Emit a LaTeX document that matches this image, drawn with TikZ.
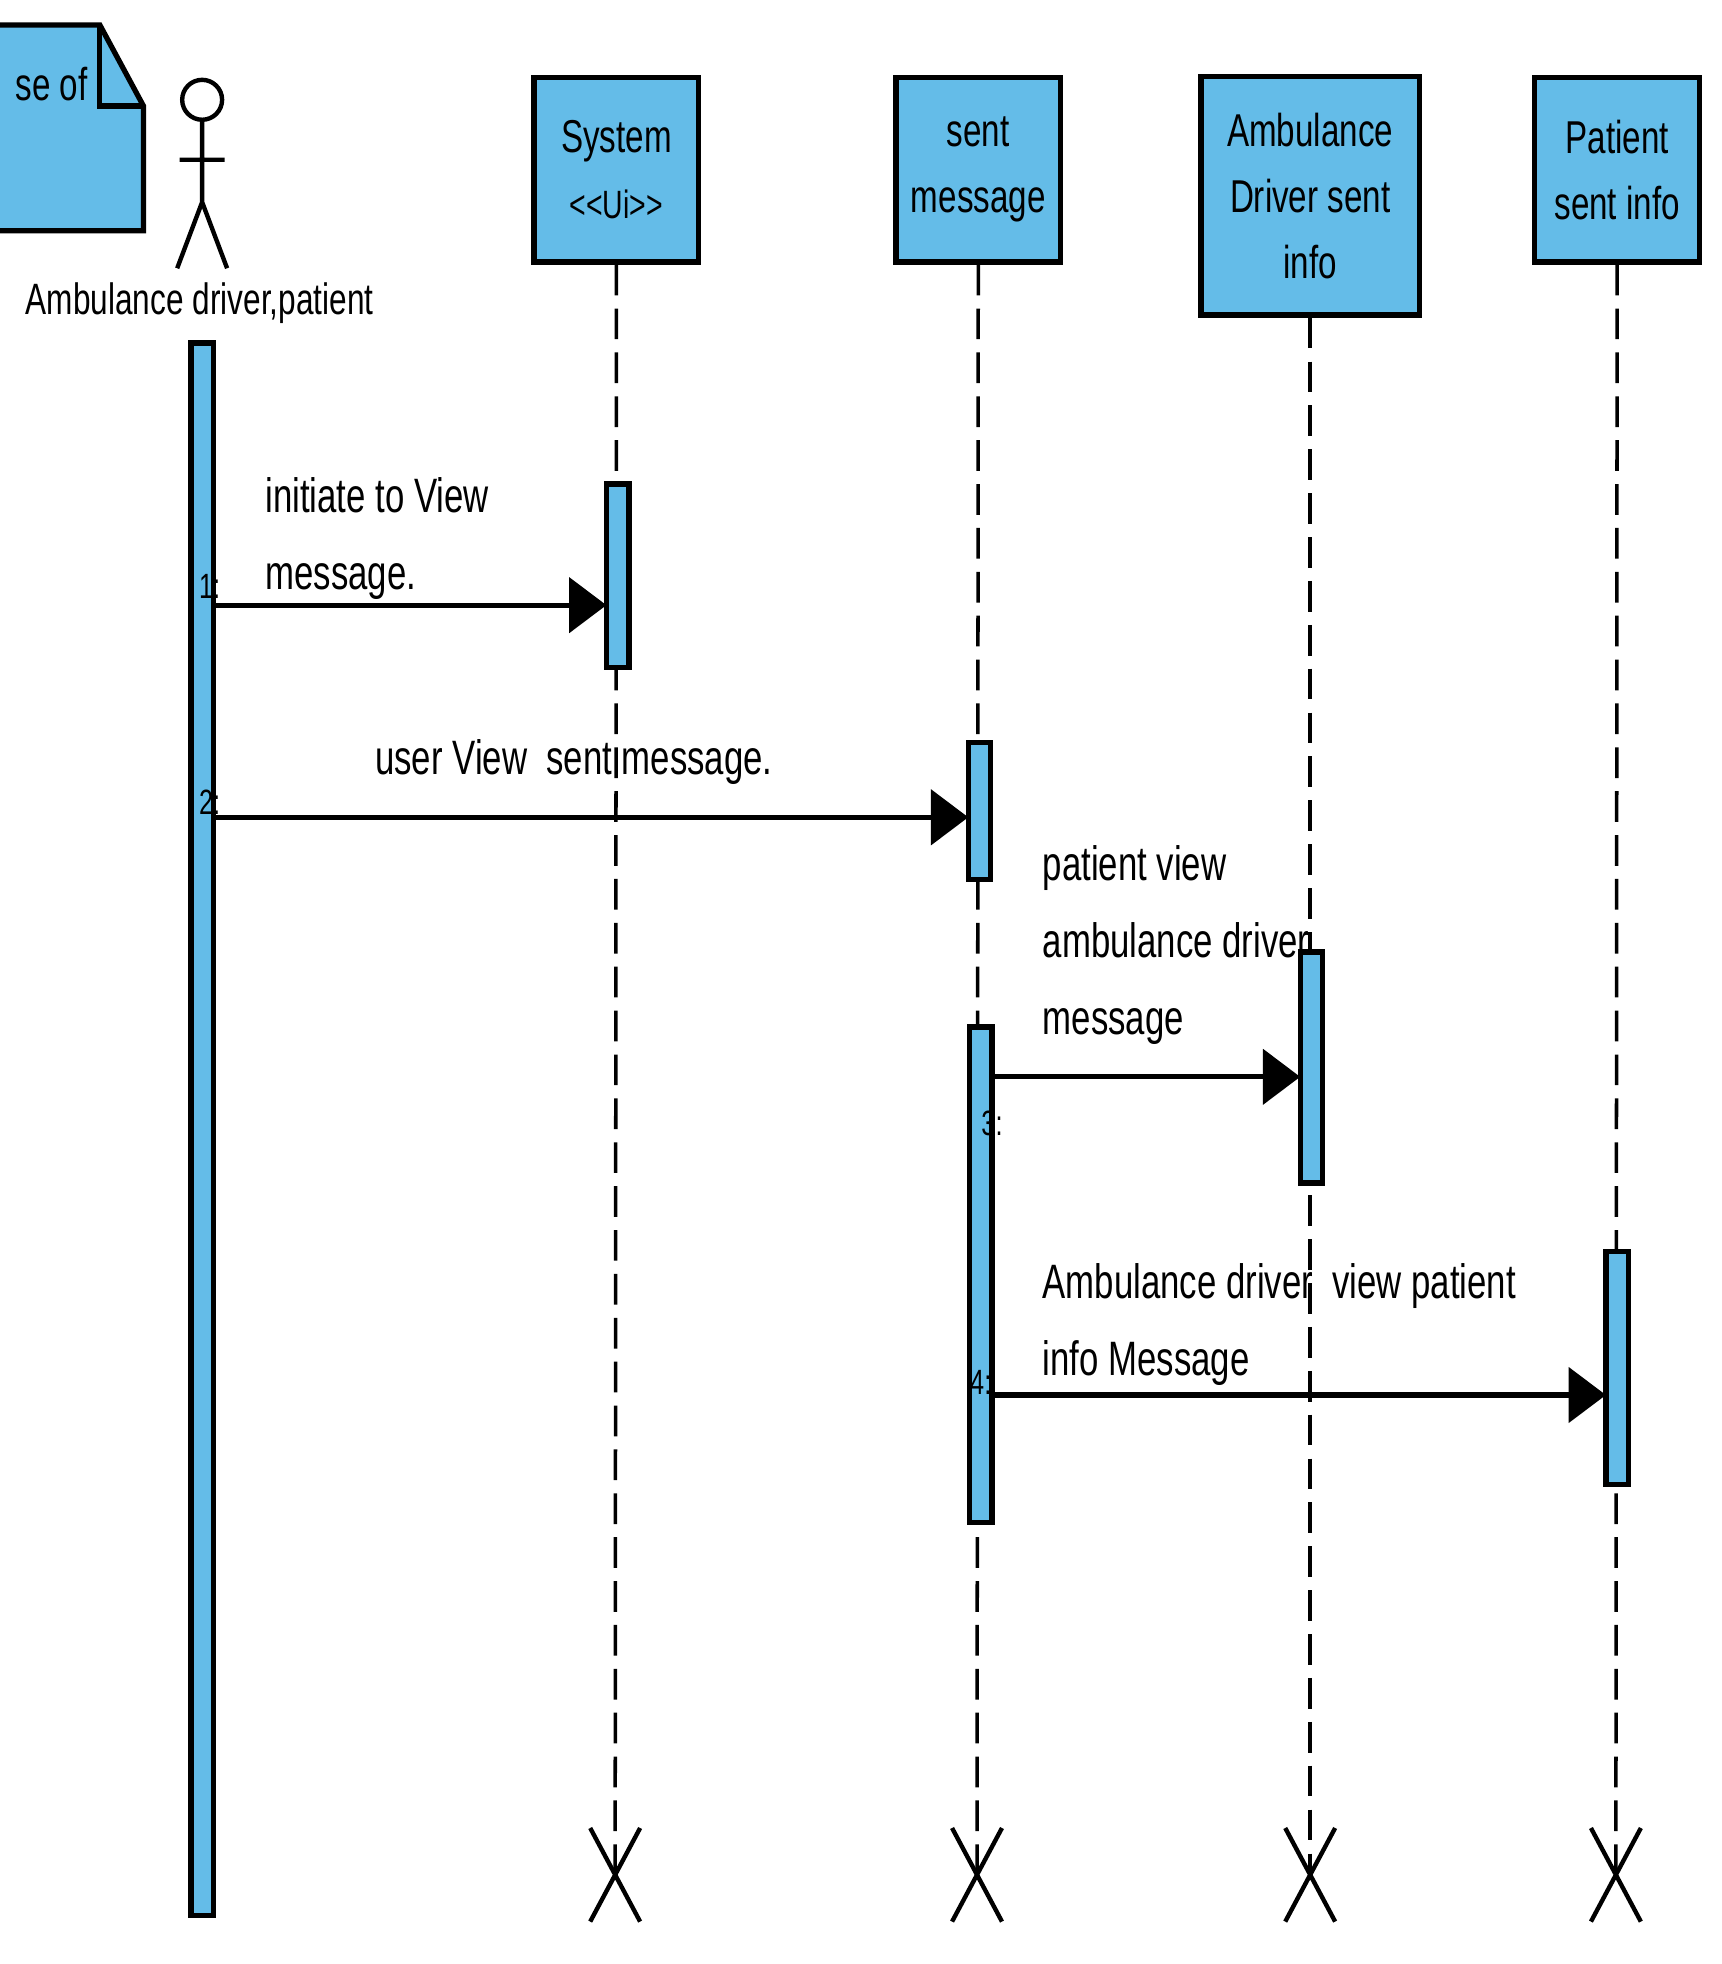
\documentclass[tikz,border=0pt]{standalone}
\usepackage{fontspec}
\setmainfont[FakeStretch=0.72]{Liberation Sans}
\usetikzlibrary{arrows.meta}
\definecolor{uml}{RGB}{100,188,232}
\begin{document}
\begin{tikzpicture}[x=0.01cm,y=-0.01cm,
  box/.style={draw,line width=1.2pt,fill=uml},
  lbl/.style={font=\fontsize{10.5}{15}\selectfont,align=center},
  mlbl/.style={font=\fontsize{11}{17.5}\selectfont,align=left,anchor=north west,inner sep=0},
  life/.style={dash pattern=on 7pt off 3pt,line width=0.8pt},
  msg/.style={line width=1.2pt,-{Triangle[length=8.5pt,width=12.5pt]}},
  num/.style={font=\fontsize{8}{8}\selectfont,inner sep=0}]
\useasboundingbox[fill=white] (0,0) rectangle (1380,1574);
% note
\draw[box] (-10,20) -- (80,20) -- (115,85) -- (115,185) -- (-10,185);
\draw[line width=1.2pt] (80,20) -- (80,85) -- (115,85);
\node[lbl,anchor=west] (note) at (0,67) {se of};
% actor
\draw[line width=1pt] (162,80) circle (16);
\draw[line width=1pt] (162,96) -- (162,162) (144,128) -- (180,128) (142,215) -- (162,162) -- (182,215);
\node[lbl,font=\fontsize{10}{12}\selectfont] (actl) at (160,243) {Ambulance driver,patient};
% lifeline heads
\node[box,lbl,minimum width=132*0.01cm,minimum height=148*0.01cm] (sys) at (494,136) {System\\\fontsize{9}{12}\selectfont<{}<Ui>{}>};
\node[box,lbl,minimum width=132*0.01cm,minimum height=148*0.01cm] (sm) at (784,136) {sent\\message};
\node[box,lbl,minimum width=175*0.01cm,minimum height=191*0.01cm] (ad) at (1050,157) {Ambulance\\Driver sent\\info};
\node[box,lbl,minimum width=132*0.01cm,minimum height=148*0.01cm] (pi) at (1296,136) {Patient\\sent info};
% lifelines
\coordinate (sysE) at (493,1500);
\coordinate (smE) at (783,1500);
\coordinate (adE) at (1050,1500);
\coordinate (piE) at (1295,1500);
\draw[life] (sys.south) -- (sysE);
\draw[life] (sm.south) -- (smE);
\draw[life] (ad.south) -- (adE);
\draw[life] (pi.south) -- (piE);
\foreach \c in {sysE,smE,adE,piE}{
  \draw[line width=1pt] ([shift={(-20,-35)}]\c) -- ([shift={(20,40)}]\c) ([shift={(20,-35)}]\c) -- ([shift={(-20,40)}]\c);}
% activations
\draw[box] (153,275) rectangle (171,1535);
\draw[box] (486,388) rectangle (504,535);
\draw[box] (776,595) rectangle (794,705);
\draw[box] (777,823) rectangle (795,1220);
\draw[box] (1042,763) rectangle (1060,948);
\draw[box] (1287,1003) rectangle (1305,1190);
% messages
\coordinate (m1s) at (171,485); \coordinate (m1e) at (486,485);
\coordinate (m2s) at (171,655); \coordinate (m2e) at (776,655);
\coordinate (m3s) at (795,863); \coordinate (m3e) at (1042,863);
\coordinate (m4s) at (795,1118); \coordinate (m4e) at (1287,1118);
\draw[msg] (m1s) -- (m1e);
\draw[msg] (m2s) -- (m2e);
\draw[msg] (m3s) -- (m3e);
\draw[msg] (m4s) -- (m4e);
\node[mlbl] (l1) at (212,382) {initiate to View\\message.};
\node[mlbl] (l2) at (300,592) {user View\ \ sent message.};
\node[mlbl] (l3) at (835,677) {patient view\\ambulance driver\\message};
\node[mlbl] (l4) at (835,1012) {Ambulance driver\ \ view patient\\info Message};
\node[num] (n1) at (168,470) {1:};
\node[num] (n2) at (168,643) {2:};
\node[num] (n3) at (795,900) {3:};
\node[num] (n4) at (786,1108) {4:};
\end{tikzpicture}
\end{document}
